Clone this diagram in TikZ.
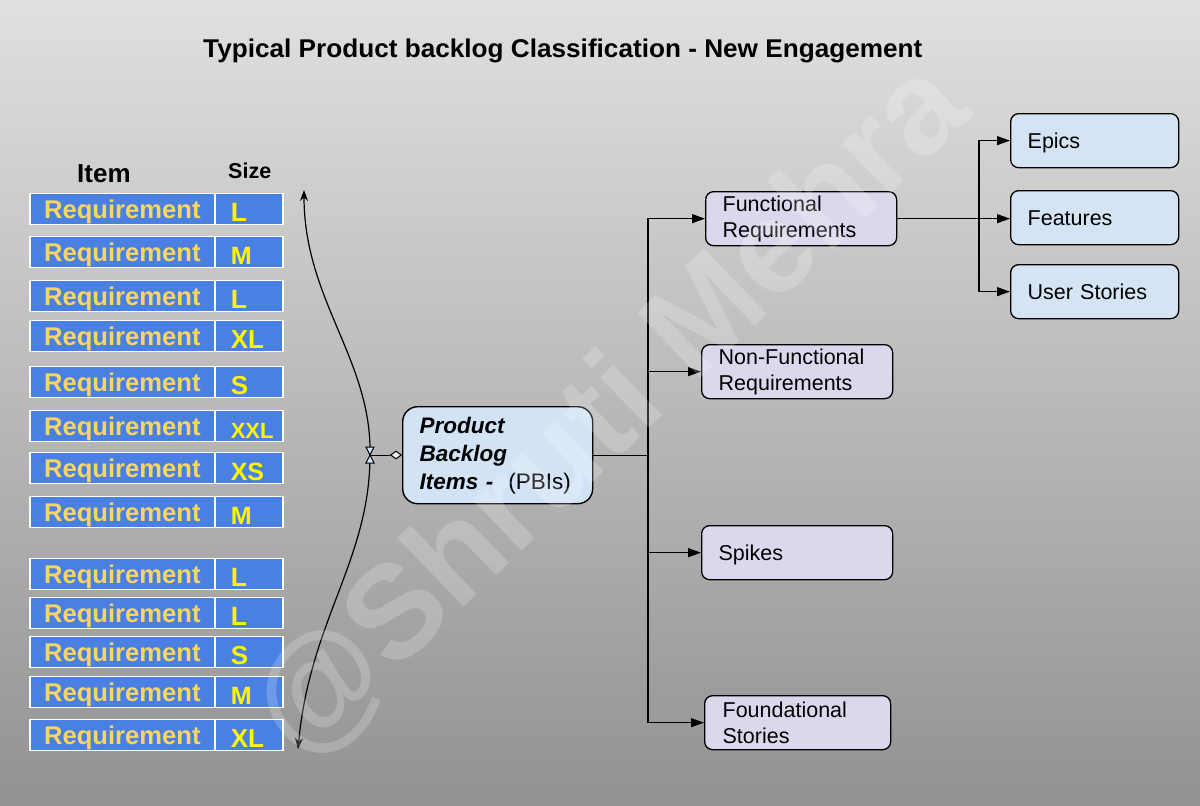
\documentclass[tikz,border=0pt]{standalone}
\usepackage{fontspec}
\setmainfont{Liberation Sans}
\usepackage{graphicx}
\usetikzlibrary{arrows.meta,shapes.geometric}
\definecolor{bgtop}{RGB}{224,224,224}
\definecolor{bgbot}{RGB}{146,146,146}
\definecolor{reqblue}{RGB}{74,128,226}
\definecolor{reqtext}{RGB}{249,214,96}
\definecolor{sizetext}{RGB}{255,245,0}
\definecolor{pbifill}{RGB}{210,227,246}
\definecolor{lavender}{RGB}{220,215,236}
\definecolor{subfill}{RGB}{212,228,245}
\begin{document}
\begin{tikzpicture}[x=1pt,y=-1pt,
  >={Stealth[length=11pt,width=8pt]},
  reqcell/.style={draw=white, line width=1.6pt, fill=reqblue, minimum width=185, minimum height=31,
    inner sep=0, text height=18, text depth=0, anchor=west, text=reqtext,
    font=\bfseries\fontsize{25.6}{30}\selectfont},
  sizecell/.style={draw=white, line width=1.6pt, fill=reqblue, minimum width=68, minimum height=31,
    inner ysep=0, inner xsep=9, text width=50, align=left, text height=24, text depth=0,
    anchor=west, text=sizetext},
  catbox/.style={draw, line width=1.3pt, fill=lavender, rounded corners=8, minimum height=54,
    inner xsep=17, align=left, anchor=north west, font=\fontsize{21.5}{26}\selectfont},
  subbox/.style={draw, line width=1.3pt, fill=subfill, rounded corners=8, minimum height=54,
    minimum width=168, inner xsep=17, text width=134, align=left, anchor=north west,
    font=\fontsize{21.5}{26}\selectfont},
  conn/.style={line width=1.2pt},
  arr/.style={line width=1.2pt, -{Triangle[length=13pt,width=9pt]}},
  curvearr/.style={line width=1.2pt}
]
\useasboundingbox (0,0) rectangle (1200,806);
\shade[top color=bgtop, bottom color=bgbot] (0,0) rectangle (1200,806);

% title and headers
\node[anchor=base west, inner sep=0] (title) at (203,57)
  {\resizebox{719pt}{18.6pt}{\bfseries Typical Product backlog Classification - New Engagement}};
\node[anchor=base west, inner sep=0, font=\bfseries\fontsize{26}{30}\selectfont] (item) at (77,182) {Item};
\node[anchor=base west, inner sep=0, font=\bfseries\fontsize{21.5}{26}\selectfont] (size) at (228,178) {Size};

% requirement rows
\foreach \i/\yc/\sz/\fs in {1/209/L/26.5, 2/252/M/25, 3/296/L/26.5, 4/336/XL/26, 5/382/S/26,
    6/426/XXL/22, 7/468/XS/25, 8/512/M/25, 9/574/L/26.5, 10/613/L/26.5, 11/652/S/26,
    12/692/M/25, 13/735/XL/26}{
  \node[reqcell] (r\i) at (29,\yc) {Requirement};
  \node[sizecell, font=\bfseries\fontsize{\fs}{\fs}\selectfont] (s\i) at (214,\yc) {\hspace*{7pt}\sz};
}

% PBI box
\node[draw, line width=1.4pt, fill=pbifill, rounded corners=15, minimum width=190, minimum height=97,
  inner xsep=17, text width=156, align=left, anchor=north west,
  font=\fontsize{22.5}{28}\selectfont] (pbi) at (402,406)
  {\textbf{\textit{Product}}\\\textbf{\textit{Backlog}}\\\textbf{\textit{Items -}}\ \ (PBIs)};

% curved double arrow with junction
\coordinate (jn) at (370,455);
\coordinate (ctop) at (304,190);
\coordinate (cbot) at (298,749);
\draw[curvearr, <-] (ctop) .. controls (304,300) and (372,360) .. (jn);
\draw[curvearr, ->] (jn) .. controls (370,560) and (310,620) .. (cbot);
\node[diamond, draw, line width=1pt, fill=white!85!gray, minimum width=11, minimum height=8,
  inner sep=0, anchor=east] (dia) at (pbi.west |- jn) {};
\draw[line width=1pt] (jn) -- (dia.west);
\draw[line width=1pt, fill=pbifill] (366,447) -- (374,447) -- (jn) -- cycle;
\draw[line width=1pt, fill=pbifill] (366,463) -- (374,463) -- (jn) -- cycle;

% category boxes
\node[catbox, minimum width=191, text width=157] (fr) at (705,191) {Functional\\Requirements};
\node[catbox, minimum width=191, text width=157] (nfr) at (701,344) {Non-Functional\\Requirements};
\node[catbox, minimum width=191, text width=157, text depth=0] (sp) at (701,525) {Spikes};
\node[catbox, minimum width=186, inner xsep=18, text width=150] (fs) at (704,695) {Foundational\\Stories};

% sub boxes
\node[subbox, text depth=0] (ep) at (1010,113) {Epics};
\node[subbox, text depth=0] (ft) at (1010,190) {Features};
\node[subbox, text depth=0] (us) at (1010,264) {User Stories};

% connectors
\coordinate (tk) at (648,455);
\draw[conn] (pbi.east) -- (pbi.east -| tk);
\draw[arr] (pbi.east -| tk) |- (fr.west);
\draw[arr] (pbi.east -| tk) |- (nfr.west);
\draw[arr] (pbi.east -| tk) |- (sp.west);
\draw[arr] (pbi.east -| tk) |- (fs.west);
\coordinate (br) at (979,218);
\draw[arr] (fr.east) -- (fr.east -| ft.west);
\draw[arr] (fr.east -| br) |- (ep.west);
\draw[arr] (fr.east -| br) |- (us.west);

% watermark
\node[rotate=44, text=white, opacity=0.2, inner sep=0,
  font=\bfseries\fontsize{132}{132}\selectfont] (wm) at (612,412) {@Shruti Mehra};
\end{tikzpicture}
\end{document}
